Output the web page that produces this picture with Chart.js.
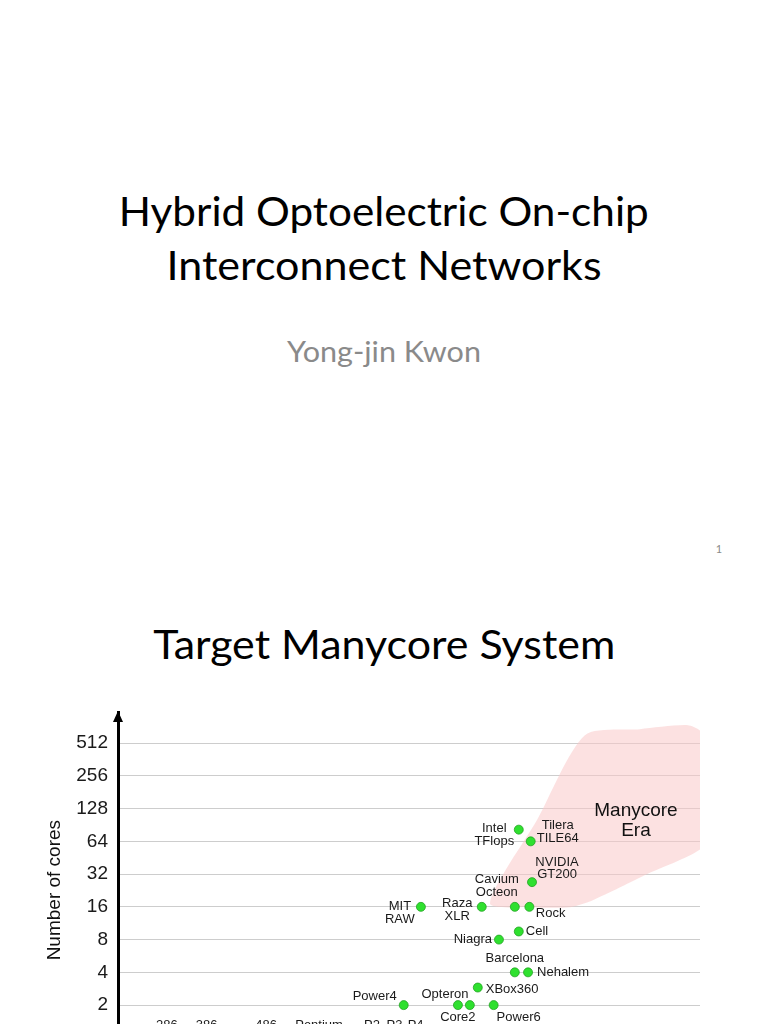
<!DOCTYPE html>
<html>
<head>
<meta charset="utf-8">
<script src="https://cdn.jsdelivr.net/npm/chart.js@4.4.1/dist/chart.umd.min.js"></script>
<style>
  html, body { margin: 0; padding: 0; width: 768px; height: 1024px; overflow: hidden; background: #fff; }
  .t { position: absolute; left: 0; width: 768px; text-align: center; font-family: Lato, "Open Sans", sans-serif; line-height: 1; white-space: nowrap; color: #000; }
  .t span { display: inline-block; transform-origin: 50% 50%; }
  #chart { position: absolute; left: 0; top: 690px; }
</style>
</head>
<body>
<div class="t" data-w="530" style="top:191px;font-size:40px;"><span>Hybrid Optoelectric On-chip</span></div>
<div class="t" data-w="435" style="top:244.5px;font-size:40px;"><span>Interconnect Networks</span></div>
<div class="t" data-w="194" style="top:337px;font-size:28px;color:#8a8a8a;"><span>Yong-jin Kwon</span></div>
<div class="t" style="top:543px;left:714px;width:10px;font-size:11px;color:#8a8a8a;"><span>1</span></div>
<div class="t" data-w="462" style="top:624px;font-size:40px;"><span>Target Manycore System</span></div>

<canvas id="chart" width="768" height="440" style="width:768px;height:440px;"></canvas>

<script>
// fit slide text widths to the reference
document.querySelectorAll('.t[data-w]').forEach(el => {
  const sp = el.querySelector('span');
  const w = sp.getBoundingClientRect().width;
  const target = parseFloat(el.dataset.w);
  if (w > 0) sp.style.transform = 'scaleX(' + (target / w) + ')';
});

// ---- data ----
const chipNames = ["286","386","486","Pentium","P2","P3","P4","Power4","MIT|RAW","Opteron","Core2",
  "XBox360","Raza|XLR","Power6","Niagra","Barcelona","Cavium|Octeon","Intel|TFlops","Cell",
  "Nehalem","Rock","Tilera|TILE64","NVIDIA|GT200"];
const chipYears = [1981.7,1984.7,1989.2,1993.2,1997.2,1998.9,2000.5,1999.6,2000.9,2003.7,2004.6,
  2005.2,2005.5,2006.4,2006.8,2008.0,2008.0,2008.3,2008.3,2009.0,2009.1,2009.2,2009.3];
const chipCores = [1,1,1,1,1,1,1,2,16,2,2,2.9,16,2,8,4,16,82,9.5,4,16,64,27];

const yTickValues = [1,2,4,8,16,32,64,128,256,512];

// "Manycore Era" region outline (year, cores)
const eraYears = [2009.71,2013.30,2017.46,2021.09,2022.22,2022.67,2022.75,2022.52,2022.14,2018.02,2013.90,2012.17,2009.14,2006.12,2009.71];
const eraCores = [102.4,606,688,748,632,397,189,90.2,55.4,32,18.4,15.9,15.9,17.3,102.4];
const eraLabel = ["Manycore","Era"];
const eraLabelYear = 2017.16;
const eraLabelCores = 123.9;

// label placement (style): [align, dx, dy]
const labelPlacement = [
  ['center',0,-12],['center',0,-12],['center',0,-12],['center',0,-12],['center',0,-12],['center',0,-12],['center',0,-12],
  ['right',-7,-9],      // Power4
  ['center',-21,0],     // MIT RAW
  ['center',-13,-11],   // Opteron
  ['center',-12,12],    // Core2
  ['left',8,1.5],       // XBox360
  ['center',-24.5,-3],  // Raza XLR
  ['center',25,12],     // Power6
  ['right',-7,0],       // Niagra
  ['center',0,-14],     // Barcelona
  ['center',-18,-27],   // Cavium Octeon
  ['center',-24.5,-1],  // Intel TFlops
  ['left',7,0],         // Cell
  ['left',9,0],         // Nehalem
  ['left',6.5,7],       // Rock
  ['center',27,-16],    // Tilera
  ['center',25,-20]     // NVIDIA
];

const FONT = '"Liberation Sans", Arial, Helvetica, sans-serif';

const annotPlugin = {
  id: 'annot',
  afterDatasetsDraw(chart) {
    const ctx = chart.ctx;
    const meta = chart.getDatasetMeta(0);
    const xs = chart.scales.x, ys = chart.scales.y;
    ctx.save();
    ctx.fillStyle = '#1a1a1a';
    ctx.textBaseline = 'middle';
    ctx.font = '13px ' + FONT;
    meta.data.forEach((pt, i) => {
      const [align, dx, dy] = labelPlacement[i];
      ctx.textAlign = align;
      chipNames[i].split('|').forEach((line, j) => {
        ctx.fillText(line, pt.x + dx, pt.y + dy + j * 12.7);
      });
    });
    ctx.font = '19px ' + FONT;
    ctx.textAlign = 'center';
    ctx.fillStyle = '#111';
    const ex = xs.getPixelForValue(eraLabelYear), ey = ys.getPixelForValue(eraLabelCores);
    eraLabel.forEach((l, j) => ctx.fillText(l, ex, ey + 1 + j * 20));
    ctx.restore();
  },
  afterDraw(chart) {
    const ctx = chart.ctx;
    const ax = chart.scales.y.right;
    const top = chart.chartArea.top;
    ctx.save();
    ctx.fillStyle = '#000';
    ctx.beginPath();
    ctx.moveTo(ax, top - 1);
    ctx.lineTo(ax - 5, top + 10);
    ctx.lineTo(ax + 5, top + 10);
    ctx.closePath();
    ctx.fill();
    ctx.restore();
  }
};

new Chart(document.getElementById('chart'), {
  type: 'scatter',
  data: {
    datasets: [
      {
        data: chipYears.map((x, i) => ({ x, y: chipCores[i] })),
        pointRadius: 4.5,
        pointBackgroundColor: '#2fe02f',
        pointBorderColor: '#1d9f1d',
        pointBorderWidth: 0.75,
        order: 0
      },
      {
        data: eraYears.map((x, i) => ({ x, y: eraCores[i] })),
        showLine: true,
        fill: 'shape',
        backgroundColor: 'rgba(250,200,200,0.55)',
        borderWidth: 0,
        borderColor: 'rgba(0,0,0,0)',
        pointRadius: 0,
        tension: 0.25,
        order: 1
      }
    ]
  },
  options: {
    responsive: false,
    animation: false,
    events: [],
    layout: { padding: { top: 22, bottom: 61.7, left: 0, right: 68 } },
    plugins: { legend: { display: false }, tooltip: { enabled: false } },
    scales: {
      x: { type: 'linear', min: 1978, max: 2022, display: false },
      y: {
        type: 'logarithmic',
        min: Math.pow(2, -0.93),
        max: Math.pow(2, 9.95),
        afterBuildTicks(scale) { scale.ticks = yTickValues.map(v => ({ value: v })); },
        afterFit(scale) { scale.width = 118; },
        ticks: {
          callback: v => String(v),
          font: { family: FONT, size: 19 },
          color: '#1a1a1a',
          padding: 10,
          autoSkip: false
        },
        grid: { color: '#cdcdcd', lineWidth: 1, drawTicks: false },
        border: { display: true, color: '#000', width: 3 },
        title: {
          display: true,
          text: 'Number of cores',
          font: { family: FONT, size: 19 },
          color: '#111',
          padding: { top: 43.6, bottom: 0 }
        }
      }
    }
  },
  plugins: [annotPlugin]
});
</script>
</body>
</html>
